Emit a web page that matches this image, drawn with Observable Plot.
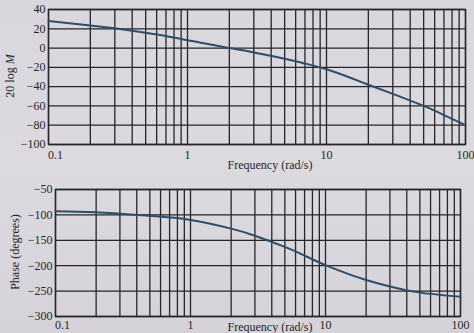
<!DOCTYPE html>
<html>
<head>
<meta charset="utf-8">
<script src="https://cdn.jsdelivr.net/npm/d3@7"></script>
<script src="https://cdn.jsdelivr.net/npm/@observablehq/plot@0.6"></script>
<style>
  html, body { margin: 0; padding: 0; background: #dad6dd; }
  #chart { width: 474px; height: 333px; overflow: hidden; background: linear-gradient(180deg, #d9d6de 0%, #dcd9df 50%, #d6d2da 100%); }
  svg { display: block; overflow: visible; }
</style>
</head>
<body>
<div id="chart"></div>
<script>
// Frequency (rad/s)
const freq = [0.1, 0.2, 0.3, 0.5, 0.7, 1, 1.5, 2, 3, 5, 7, 10, 15, 20, 30, 50, 70, 100];
// Magnitude 20 log M (dB)
const magnitude = [28, 23.5, 20.5, 16, 12.5, 8, 3.5, 0, -4.5, -11, -16, -22, -31, -38, -47.5, -60, -69.5, -80];
// Phase (degrees)
const phaseFreq = [0.1, 0.2, 0.5, 1, 2, 3, 5, 7, 10, 15, 20, 30, 50, 100];
const phase = [-93, -95, -102, -110, -127, -141, -163, -180, -199, -217, -228, -241, -253, -261];

const xFirstLabel = [0.1];
const xTickLabels = [1, 10, 100];
const xGrid = [0.1, 0.2, 0.3, 0.4, 0.5, 0.6, 0.7, 0.8, 0.9, 1, 2, 3, 4, 5, 6, 7, 8, 9, 10, 20, 30, 40, 50, 60, 70, 80, 90, 100];
const magTicks = [40, 20, 0, -20, -40, -60, -80, -100];
const phaseTicks = [-50, -100, -150, -200, -250, -300];

const magData = freq.map((f, i) => ({f, v: magnitude[i]}));
const phaseData = phaseFreq.map((f, i) => ({f, v: phase[i]}));

const ink = "#262628";
const curveColor = "#2f4d6b";
const font = "'Liberation Serif', 'DejaVu Serif', serif";

function panel({data, yDomain, yTicks, height, mt, mb, ml, mr, pad}) {
  return Plot.plot({
    width: 474,
    height,
    marginTop: mt,
    marginBottom: mb,
    marginLeft: ml,
    marginRight: mr,
    style: {background: "transparent", fontFamily: font, fontSize: "12px", color: ink, overflow: "visible"},
    x: {type: "log", domain: [0.1, 100]},
    y: {domain: yDomain},
    marks: [
      Plot.ruleX(xGrid, {stroke: ink, strokeWidth: 1.3}),
      Plot.ruleY(yTicks, {stroke: ink, strokeWidth: 1.3}),
      Plot.frame({stroke: ink, strokeWidth: 1.4}),
      Plot.axisX(xFirstLabel, {tickSize: 0, tickPadding: pad, dx: 7, tickFormat: d => String(d), label: null, fontSize: 12}),
      Plot.axisX(xTickLabels, {tickSize: 0, tickPadding: pad, tickFormat: d => String(d), label: null, fontSize: 12}),
      Plot.axisY(yTicks, {tickSize: 0, tickPadding: 3, label: null, fontSize: 12}),
      Plot.line(data, {x: "f", y: "v", stroke: curveColor, strokeWidth: 2, curve: "natural"})
    ]
  });
}

const magPlot = panel({data: magData, yDomain: [-100, 40], yTicks: magTicks, height: 172, mt: 9, mb: 28, ml: 48, mr: 9, pad: 6});
const phasePlot = panel({data: phaseData, yDomain: [-300, -50], yTicks: phaseTicks, height: 161, mt: 17, mb: 17, ml: 55, mr: 14, pad: 4});

const chart = document.getElementById("chart");
chart.append(magPlot, phasePlot);

// Axis titles
const ts = d3.select(magPlot);
const tl = ts.append("text")
  .attr("transform", "translate(14,76) rotate(-90)")
  .attr("text-anchor", "middle")
  .attr("font-family", font).attr("font-size", 12).attr("fill", ink);
tl.append("tspan").text("20 log ");
tl.append("tspan").attr("font-style", "italic").text("M");
ts.append("text")
  .attr("x", 270).attr("y", 169)
  .attr("text-anchor", "middle")
  .attr("font-family", font).attr("font-size", 12).attr("fill", ink)
  .text("Frequency (rad/s)");

const bs = d3.select(phasePlot);
bs.append("text")
  .attr("transform", "translate(19,80) rotate(-90)")
  .attr("text-anchor", "middle")
  .attr("font-family", font).attr("font-size", 12).attr("fill", ink)
  .text("Phase (degrees)");
bs.append("text")
  .attr("x", 270).attr("y", 159)
  .attr("text-anchor", "middle")
  .attr("font-family", font).attr("font-size", 12).attr("fill", ink)
  .text("Frequency (rad/s)");
</script>
</body>
</html>
